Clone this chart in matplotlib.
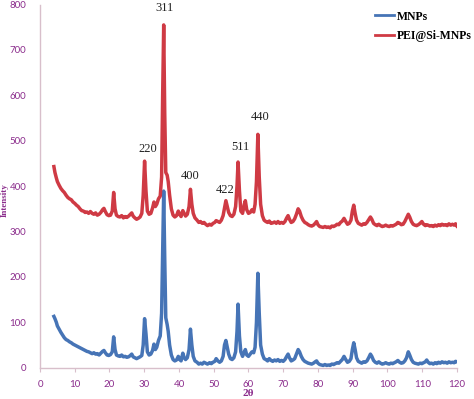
import matplotlib
matplotlib.use("Agg")
import matplotlib.pyplot as plt
import numpy as np

# MNPs (blue) - 2theta / intensity
mnp_x = [4.0, 4.3, 4.7, 5.0, 5.5, 6.0, 6.5, 7.0, 7.5, 8.0, 8.5, 9.0, 9.5, 10.0, 10.5, 11.0, 11.5, 12.0,
         12.5, 13.0, 13.5, 14.0, 14.5, 15.0, 15.5, 16.0, 16.5, 17.0, 17.5, 18.0, 18.4, 18.8, 19.3, 19.8,
         20.3, 20.8, 21.2, 21.6, 22.0, 22.5, 23.0, 23.5, 24.0, 24.5, 25.0, 25.5, 26.0, 26.4, 26.8, 27.3,
         27.8, 28.3, 28.8, 29.3, 29.7, 30.1, 30.5, 30.9, 31.4, 31.9, 32.4, 32.8, 33.2, 33.6, 34.1, 34.6,
         35.0, 35.3, 35.6, 35.9, 36.2, 36.6, 36.9, 37.3, 37.8, 38.3, 38.8, 39.3, 39.8, 40.2, 40.6, 41.1,
         41.5, 41.9, 42.4, 42.9, 43.3, 43.7, 44.1, 44.6, 45.2, 45.7, 46.2, 46.7, 47.2, 47.7, 48.2, 48.8,
         49.3, 49.8, 50.3, 50.7, 51.2, 51.7, 52.2, 52.7, 53.1, 53.5, 53.9, 54.3, 54.8, 55.3, 55.8, 56.3,
         56.7, 57.0, 57.4, 57.8, 58.3, 58.8, 59.1, 59.5, 60.0, 60.5, 61.0, 61.5, 61.9, 62.3, 62.7, 63.1,
         63.5, 64.0, 64.5, 65.0, 65.5, 66.0, 66.5, 67.0, 67.5, 68.0, 68.5, 69.0, 69.5, 70.0, 70.5, 71.0,
         71.4, 71.8, 72.3, 72.8, 73.3, 73.8, 74.3, 74.7, 75.2, 75.7, 76.2, 76.7, 77.2, 77.7, 78.2, 78.7,
         79.2, 79.6, 80.0, 80.5, 81.0, 81.5, 82.0, 82.5, 83.0, 83.5, 84.0, 84.5, 85.0, 85.5, 86.0, 86.5,
         87.0, 87.5, 88.0, 88.5, 89.0, 89.5, 89.9, 90.3, 90.7, 91.1, 91.6, 92.1, 92.6, 93.1, 93.6, 94.1,
         94.6, 95.1, 95.5, 96.0, 96.5, 97.0, 97.5, 98.0, 98.5, 99.0, 99.5, 100.0, 100.5, 101.0, 101.5,
         102.0, 102.5, 103.0, 103.5, 104.0, 104.5, 105.0, 105.5, 106.0, 106.4, 106.9, 107.4, 107.9, 108.4,
         108.9, 109.4, 109.9, 110.4, 110.9, 111.3, 111.7, 112.2, 112.7, 113.2, 113.7, 114.2, 114.7, 115.2,
         115.7, 116.2, 116.7, 117.2, 117.7, 118.2, 118.7, 119.2, 119.6, 120.0]
mnp_y = [113, 108, 100, 92, 85, 78, 72, 66, 62, 60, 57, 55, 52, 50, 48, 46, 44, 42,
         40, 38, 36, 35, 33, 31, 33, 30, 31, 28, 32, 36, 38, 33, 28, 27,
         29, 35, 68, 40, 28, 26, 25, 28, 24, 25, 23, 24, 27, 30, 24, 22,
         20, 22, 24, 27, 50, 108, 75, 35, 28, 30, 38, 52, 40, 45, 60, 70,
         120, 260, 389, 240, 110, 95, 80, 50, 28, 18, 15, 17, 25, 18, 15, 32,
         22, 18, 22, 40, 85, 50, 25, 15, 12, 8, 10, 8, 12, 10, 8, 11,
         9, 12, 14, 20, 15, 12, 15, 25, 50, 60, 45, 30, 20, 18, 22, 35,
         80, 140, 70, 35, 25, 35, 40, 28, 25, 30, 35, 33, 45, 100, 208, 120,
         50, 30, 20, 18, 15, 20, 16, 14, 17, 15, 18, 14, 16, 14, 18, 25,
         30, 22, 15, 17, 20, 30, 40, 35, 25, 18, 14, 12, 10, 9, 8, 10,
         13, 15, 10, 7, 6, 5, 7, 5, 6, 5, 8, 7, 9, 11, 10, 14,
         18, 25, 18, 12, 14, 20, 40, 55, 40, 22, 14, 12, 10, 13, 12, 15,
         22, 30, 25, 16, 12, 10, 13, 10, 8, 9, 11, 9, 8, 10, 9,
         11, 13, 16, 12, 10, 11, 15, 22, 35, 28, 18, 12, 10, 9,
         8, 10, 9, 11, 13, 17, 12, 9, 10, 8, 11, 9, 12, 10,
         13, 11, 12, 10, 13, 11, 12, 11, 14, 13]

# PEI@Si-MNPs (red)
pei_x = [4.0, 4.3, 4.7, 5.0, 5.5, 6.0, 6.5, 7.0, 7.5, 8.0, 8.5, 9.0, 9.5, 10.0, 10.5, 11.0, 11.5, 12.0,
         12.5, 13.0, 13.5, 14.0, 14.5, 15.0, 15.5, 16.0, 16.5, 17.0, 17.5, 18.0, 18.4, 18.8, 19.3, 19.8,
         20.3, 20.8, 21.2, 21.6, 22.0, 22.5, 23.0, 23.5, 24.0, 24.5, 25.0, 25.5, 26.0, 26.4, 26.8, 27.3,
         27.8, 28.3, 28.8, 29.3, 29.7, 30.1, 30.5, 30.9, 31.4, 31.9, 32.4, 32.8, 33.2, 33.6, 34.1, 34.6,
         35.0, 35.3, 35.6, 35.9, 36.2, 36.6, 36.9, 37.3, 37.8, 38.3, 38.8, 39.3, 39.8, 40.2, 40.6, 41.1,
         41.5, 41.9, 42.4, 42.9, 43.3, 43.7, 44.1, 44.6, 45.2, 45.7, 46.2, 46.7, 47.2, 47.7, 48.2, 48.8,
         49.3, 49.8, 50.3, 50.7, 51.2, 51.7, 52.2, 52.7, 53.1, 53.5, 53.9, 54.3, 54.8, 55.3, 55.8, 56.3,
         56.7, 57.0, 57.4, 57.8, 58.3, 58.8, 59.1, 59.5, 60.0, 60.5, 61.0, 61.5, 61.9, 62.3, 62.7, 63.1,
         63.5, 64.0, 64.5, 65.0, 65.5, 66.0, 66.5, 67.0, 67.5, 68.0, 68.5, 69.0, 69.5, 70.0, 70.5, 71.0,
         71.4, 71.8, 72.3, 72.8, 73.3, 73.8, 74.3, 74.7, 75.2, 75.7, 76.2, 76.7, 77.2, 77.7, 78.2, 78.7,
         79.2, 79.6, 80.0, 80.5, 81.0, 81.5, 82.0, 82.5, 83.0, 83.5, 84.0, 84.5, 85.0, 85.5, 86.0, 86.5,
         87.0, 87.5, 88.0, 88.5, 89.0, 89.5, 89.9, 90.3, 90.7, 91.1, 91.6, 92.1, 92.6, 93.1, 93.6, 94.1,
         94.6, 95.1, 95.5, 96.0, 96.5, 97.0, 97.5, 98.0, 98.5, 99.0, 99.5, 100.0, 100.5, 101.0, 101.5,
         102.0, 102.5, 103.0, 103.5, 104.0, 104.5, 105.0, 105.5, 106.0, 106.4, 106.9, 107.4, 107.9, 108.4,
         108.9, 109.4, 109.9, 110.4, 110.9, 111.3, 111.7, 112.2, 112.7, 113.2, 113.7, 114.2, 114.7, 115.2,
         115.7, 116.2, 116.7, 117.2, 117.7, 118.2, 118.7, 119.2, 119.6, 120.0]
pei_y = [443, 430, 418, 410, 402, 395, 390, 386, 380, 375, 372, 370, 365, 362, 358, 355, 350, 346,
         345, 342, 343, 340, 344, 340, 338, 341, 336, 338, 342, 348, 351, 344, 337, 335,
         336, 345, 386, 350, 336, 333, 332, 335, 330, 333, 331, 334, 338, 341, 334, 330,
         327, 329, 332, 340, 380, 455, 390, 345, 338, 340, 352, 365, 355, 360, 372, 378,
         420, 600, 755, 560, 430, 424, 410, 380, 350, 336, 332, 335, 345, 338, 333, 346,
         340, 334, 338, 355, 393, 360, 340, 330, 325, 320, 322, 318, 320, 316, 313, 316,
         314, 318, 320, 324, 322, 320, 325, 335, 352, 368, 355, 342, 335, 333, 338, 355,
         400, 453, 390, 345, 340, 360, 368, 348, 340, 342, 348, 343, 360, 410, 514, 420,
         360, 335, 325, 322, 320, 323, 318, 319, 321, 318, 322, 318, 320, 318, 322, 330,
         335, 327, 320, 322, 328, 338, 350, 345, 333, 325, 320, 318, 315, 313, 312, 314,
         318, 322, 315, 311, 310, 309, 311, 309, 310, 308, 312, 311, 313, 316, 315, 320,
         323, 329, 322, 316, 318, 325, 345, 358, 340, 325, 318, 316, 314, 317, 316, 320,
         326, 332, 327, 318, 315, 313, 316, 313, 311, 312, 314, 312, 311, 313, 312,
         314, 316, 320, 318, 315, 316, 322, 330, 338, 332, 322, 316, 314, 313,
         315, 318, 322, 316, 313, 315, 314, 312, 313, 311, 314, 312, 315, 313,
         316, 314, 315, 313, 317, 314, 316, 314, 317, 312]

peak_labels = ["311", "220", "400", "422", "511", "440"]
peak_x = [35.7, 31.1, 43.2, 53.2, 57.6, 63.3]
peak_y = [792, 482, 422, 391, 486, 552]

x_ticks = list(range(0, 121, 10))
y_ticks = list(range(0, 801, 100))

purple = "#8B2C8C"
spine_col = "#D8BFCB"

fig = plt.figure(figsize=(4.74, 3.99), dpi=100)
ax = fig.add_axes([0.0844, 0.0784, 0.8796, 0.9103])

ax.plot(mnp_x, mnp_y, color="#4674B6", lw=2.5, label="MNPs")
ax.plot(pei_x, pei_y, color="#CF3A44", lw=2.5, label="PEI@Si-MNPs")

for lab, px, py in zip(peak_labels, peak_x, peak_y):
    ax.text(px, py, lab, ha="center", va="center", fontsize=9,
            family="Liberation Serif", color="#222222")

ax.set_xlim(0, 120)
ax.set_ylim(0, 800)
ax.set_xticks(x_ticks)
ax.set_yticks(y_ticks)
ax.tick_params(axis="x", colors=spine_col, labelcolor=purple, labelsize=7,
               length=3, direction="out", pad=6)
ax.tick_params(axis="y", length=0, labelcolor=purple, labelsize=7, pad=10)
for t in ax.get_xticklabels() + ax.get_yticklabels():
    t.set_family("Lato")

for s in ["top", "right"]:
    ax.spines[s].set_visible(False)
for s in ["left", "bottom"]:
    ax.spines[s].set_color(spine_col)
    ax.spines[s].set_linewidth(1.0)

fig.text(248 / 474, 1 - 393 / 399, "2θ", ha="center", va="center", color=purple,
         fontsize=8, fontweight="bold", family="Liberation Serif")
fig.text(5 / 474, 1 - 200 / 399, "Intensity", ha="center", va="center", color=purple,
         fontsize=6.5, fontweight="bold", family="Liberation Serif", rotation=90)

leg = ax.legend(loc="upper left", bbox_to_anchor=(364 / 474, 1.0), bbox_transform=fig.transFigure,
                frameon=False, handlelength=1.6, handletextpad=0.3, labelspacing=0.6,
                prop={"family": "Liberation Serif", "weight": "bold", "size": 8.5})
for h in leg.get_lines():
    h.set_linewidth(2.0)

fig.savefig("out.png", dpi=100)
